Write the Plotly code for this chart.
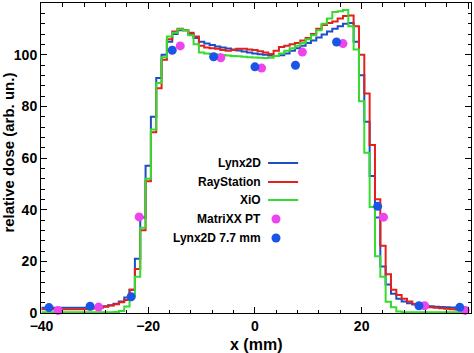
import plotly.graph_objects as go

x_bins = list(range(-40, 41))

lynx2d = [2.0]*10 + [2.1, 2.3, 2.6, 3.0, 3.6, 4.5, 6.0, 9, 21, 37, 57, 76, 91, 100, 105, 108,
          109.5, 109.5, 108, 106.5, 105, 104.3, 103.7, 103.2, 102.8, 102.4, 102, 101.6, 101.2, 100.8,
          100.5, 100.2, 100, 99.7, 99.5, 99.8, 100.5, 101.5, 102.5, 103.5, 104.5, 105.5, 106.6, 107.8,
          109, 110, 111, 112, 112.3, 105, 92, 74, 53, 37, 18, 11, 7.5, 5.5, 4.5, 3.8, 3.3, 3.0, 2.8,
          2.6, 2.4, 2.3, 2.2, 2.1, 2.0, 2.0, 2.0]

raystation = [1.5]*10 + [1.7, 2.0, 2.4, 2.9, 3.4, 4.2, 5, 9, 17, 32, 51, 70, 87, 98, 106, 109,
              110, 109.5, 108.5, 107, 103.5, 102.8, 102.5, 102.3, 101.8, 101.5, 101.8, 102.3, 102.3, 102,
              101.8, 101.3, 100.8, 100.3, 101.5, 103, 103.5, 104, 104.5, 105.5, 106.5, 108, 110, 111.5,
              112.3, 112.8, 114, 115, 115.2, 111, 100, 85, 65, 44, 26, 15, 9, 7, 5.5, 4.5, 3.5, 3.0, 2.5,
              2.2, 2.0, 1.8, 1.6, 1.5, 1.4, 1.3, 1.2]

xio = [0.3]*14 + [0.4, 0.8, 2.5, 6.5, 14, 33, 52, 71, 89, 99, 107, 108.5,
       109.8, 109.5, 107.5, 104, 100.8, 100.5, 100.3, 100.1, 99.9, 99.7, 99.5, 99.4, 99.2, 99,
       98.9, 98.8, 98.7, 98.8, 99.5, 100.5, 101.5, 102.5, 103.5, 104.5, 106, 107.5, 109.5, 112,
       114, 116.5, 116.8, 117.3, 111, 102, 82, 62, 41, 22, 14, 4.4, 2.2, 0.6, 0.3, 0.3, 0.3, 0.3, 0.3,
       0.3, 0.3, 0.3, 0.3, 0.3, 0.3, 0.3, 0.3]

matrixx_x = [-36.9, -29.3, -21.7, -14.0, -6.4, 1.25, 8.9, 16.5, 24.1, 31.8, 39.4]
matrixx_y = [1.0, 2.3, 37.2, 103.4, 98.8, 94.8, 101.0, 104.3, 37.1, 2.8, 1.0]

lynx77_x = [-38.6, -30.9, -23.2, -15.5, -7.75, 0.0, 7.6, 15.3, 23.0, 30.75, 38.4]
lynx77_y = [2.1, 2.6, 6.3, 101.7, 99.2, 95.3, 95.9, 104.9, 41.3, 2.8, 2.2]

legend_labels = ["Lynx2D", "RayStation", "XiO", "MatriXX PT", "Lynx2D 7.7 mm"]

BLUE = "#1d4fc4"
RED = "#e3201c"
GREEN = "#35dc2f"
MAG = "#ee44ee"
BLUEDOT = "#1a55e6"

fig = go.Figure()
for ys, col in [(lynx2d, BLUE), (raystation, RED), (xio, GREEN)]:
    fig.add_trace(go.Scatter(x=x_bins, y=ys, mode="lines", line=dict(color=col, width=2, shape="hvh"),
                             showlegend=False))
fig.add_trace(go.Scatter(x=matrixx_x, y=matrixx_y, mode="markers",
                         marker=dict(color=MAG, size=9), showlegend=False, cliponaxis=False))
fig.add_trace(go.Scatter(x=lynx77_x, y=lynx77_y, mode="markers",
                         marker=dict(color=BLUEDOT, size=9), showlegend=False, cliponaxis=False))

FONT = "Liberation Sans, Arial, Helvetica, sans-serif"

ax_common = dict(showline=True, linecolor="black", linewidth=1, mirror="allticks",
                 ticks="inside", ticklen=6, tickwidth=1, tickcolor="black",
                 showgrid=False, zeroline=False,
                 tickfont=dict(family=FONT, size=14, color="black", weight="bold"))

fig.update_xaxes(range=[-40.1, 40.5], dtick=20, tick0=0,
                 minor=dict(dtick=4, ticklen=3.5, ticks="inside", tickcolor="black", showgrid=False),
                 **ax_common)
fig.update_yaxes(range=[0, 120], dtick=20, tick0=0,
                 minor=dict(dtick=4, ticklen=3.5, ticks="inside", tickcolor="black", showgrid=False),
                 **ax_common)

annots = []
shapes = []
row_y = [0.4839, 0.4226, 0.3645, 0.3032, 0.2419]
kinds = [("line", BLUE), ("line", RED), ("line", GREEN), ("dot", MAG), ("dot", BLUEDOT)]
for lab, yy, (kind, col) in zip(legend_labels, row_y, kinds):
    annots.append(dict(text=lab, x=0.516, y=yy, xref="paper", yref="paper", xanchor="right",
                       yanchor="middle", showarrow=False,
                       font=dict(family=FONT, size=12, color="black", weight="bold")))
    if kind == "line":
        shapes.append(dict(type="line", xref="paper", yref="paper", x0=0.528, x1=0.598, y0=yy, y1=yy,
                           line=dict(color=col, width=2)))
    else:
        shapes.append(dict(type="circle", xref="paper", yref="paper", xsizemode="pixel", ysizemode="pixel",
                           xanchor=0.5465, yanchor=yy, x0=-4.5, x1=4.5, y0=-4.5, y1=4.5,
                           fillcolor=col, line=dict(width=0)))

annots.append(dict(text="x (mm)", x=0.5, y=-0.103, xref="paper", yref="paper", xanchor="center",
                   yanchor="middle", showarrow=False,
                   font=dict(family=FONT, size=16, color="black", weight="bold")))
annots.append(dict(text="relative dose (arb. un.)", x=-0.0756, y=0.519, xref="paper", yref="paper",
                   xanchor="center", yanchor="middle", textangle=-90, showarrow=False,
                   font=dict(family=FONT, size=15, color="black", weight="bold")))

fig.update_layout(width=474, height=353, margin=dict(l=41, r=3, t=3, b=40),
                  plot_bgcolor="white", paper_bgcolor="white",
                  annotations=annots, shapes=shapes, showlegend=False)

fig.write_html("out.html")
